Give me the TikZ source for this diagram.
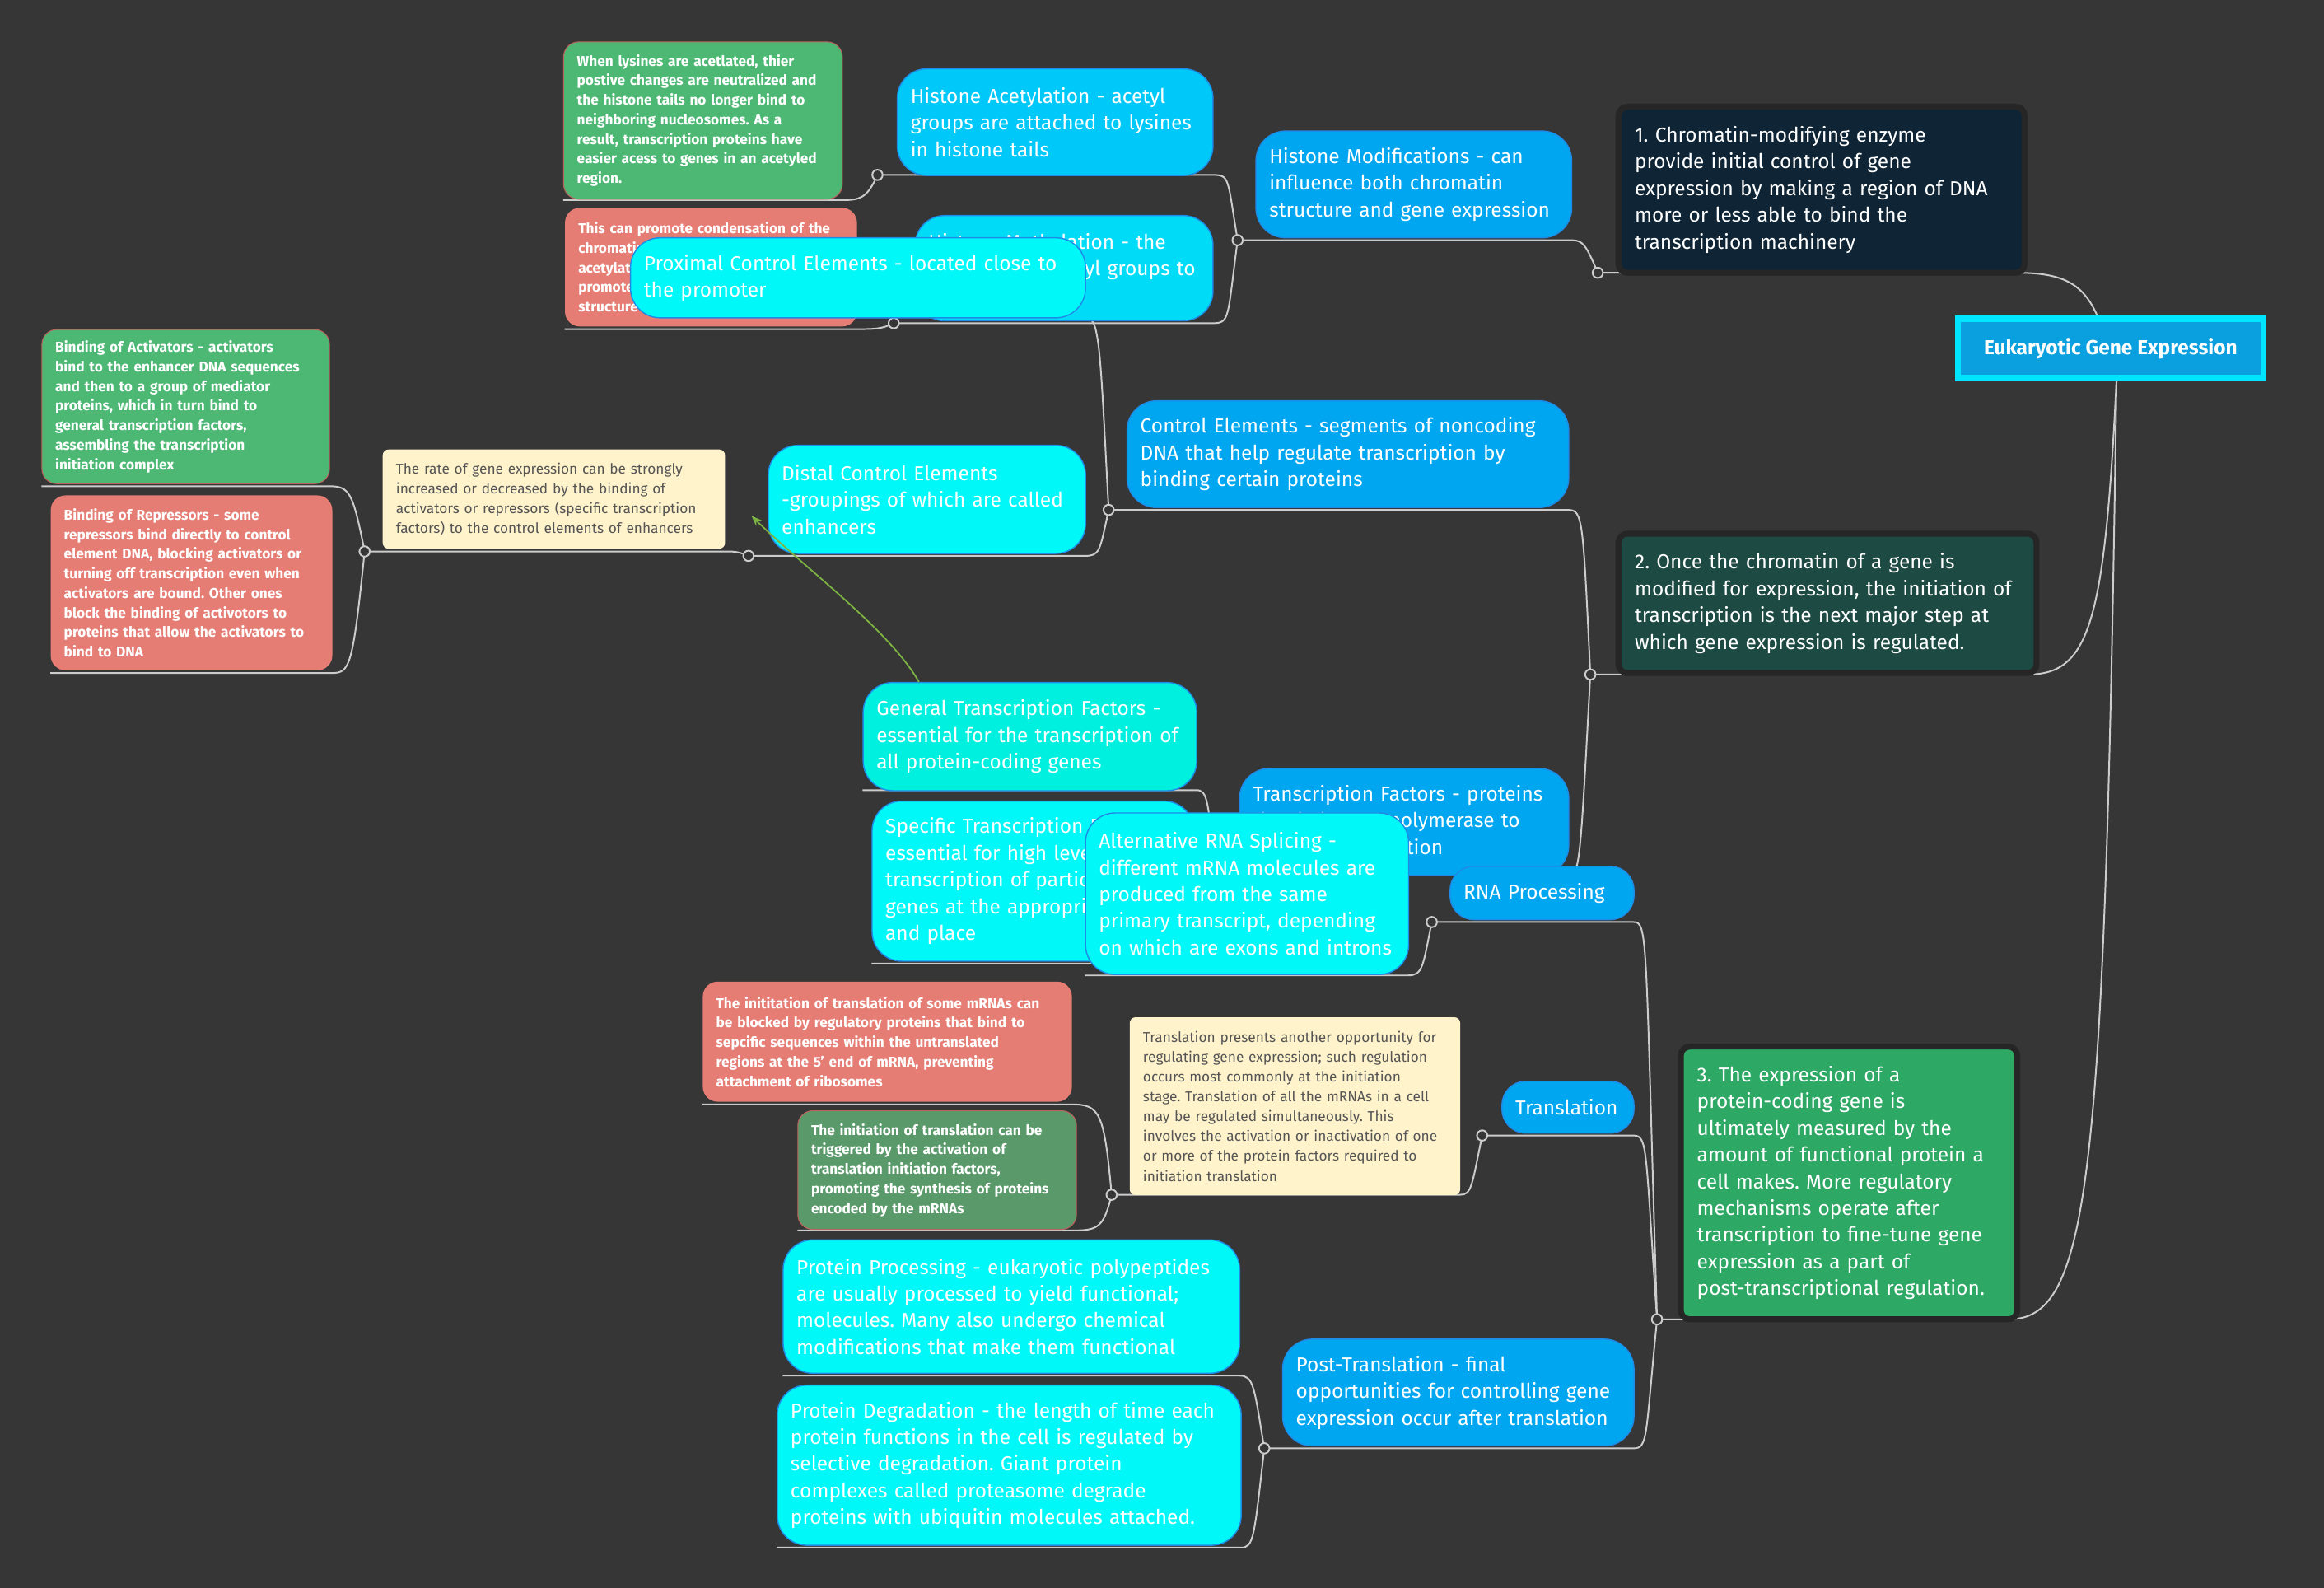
\documentclass[tikz,border=0pt]{standalone}
\usepackage{fontspec}
\setmainfont{Fira Sans}
\frenchspacing
\usetikzlibrary{arrows.meta}
\definecolor{bg}{HTML}{363636}
\definecolor{wire}{HTML}{CCCCCC}
\definecolor{blueA}{HTML}{00A6F0}
\definecolor{cyanHA}{HTML}{00C8F8}
\definecolor{cyanHM}{HTML}{00DCF8}
\definecolor{cyanC}{HTML}{00F8F8}
\definecolor{cyanG}{HTML}{00F0E0}
\definecolor{bord}{HTML}{1E8CE6}
\definecolor{gnote}{HTML}{4CB874}
\definecolor{gnoteb}{HTML}{5A9A6A}
\definecolor{rnote}{HTML}{E67D74}
\definecolor{ynote}{HTML}{FFF3CC}
\definecolor{ytext}{HTML}{555555}
\definecolor{boxA}{HTML}{0F2535}
\definecolor{boxB}{HTML}{1E4A44}
\definecolor{boxC}{HTML}{2EA865}
\definecolor{rootc}{HTML}{0AA0E0}
\definecolor{rootb}{HTML}{00E5FF}
\definecolor{arr}{HTML}{7CB342}
\tikzset{
 base/.style={anchor=north west,align=left,inner xsep=9pt,inner ysep=3pt},
 mn/.style={base,rounded corners=20pt,draw=bord,line width=0.8pt,text=white,font=\fontsize{13.6}{18}\selectfont},
 pill/.style={mn,rounded corners=16pt},
 note/.style={base,rounded corners=10pt,text=white,font=\fontsize{9.6}{13.2}\selectfont\bfseries,inner xsep=7pt},
 ynotes/.style={base,rounded corners=4pt,fill=ynote,text=ytext,font=\fontsize{9.6}{13.4}\selectfont,inner xsep=7pt},
 dark/.style={base,rounded corners=6pt,draw=black!85,line width=4pt,text=white,font=\fontsize{13.6}{18}\selectfont,inner xsep=11pt},
 wl/.style={draw=wire,line width=1.1pt},
 dot/.style={wl,fill=bg},
}
\newcommand\bx[7]{\pgfmathsetmacro\bw{#4-#2}\pgfmathsetmacro\bh{#5-#3}\pgfmathsetmacro\tw{#4-#2-18}%
 \node[#6,minimum width=\bw pt,minimum height=\bh pt,text width=\tw pt] (#1) at (#2,#3) {#7};}
\begin{document}
\begin{tikzpicture}[x=1pt,y=-1pt]
\fill[bg] (0,0) rectangle (1568,1071);
\useasboundingbox (0,0) rectangle (1568,1071);
% ---------- connectors ----------
\draw[wl] (1415,213) .. controls (1405,190) and (1390,184) .. (1360,184) -- (1078,184);
\draw[wl] (1428,256) .. controls (1420,420) and (1410,455) .. (1368,455) -- (1073,455);
\draw[wl] (1428,256) .. controls (1420,800) and (1410,890) .. (1355,890) -- (1118,890);
\draw[wl] (1078,184) .. controls (1070,165) and (1068,162) .. (1060,162) -- (835,162);
\draw[wl] (835,162) .. controls (828,120) and (830,118) .. (818,118) -- (592,118);
\draw[wl] (835,162) .. controls (828,215) and (830,218) .. (818,218) -- (603,218);
\draw[wl] (592,118) .. controls (585,134) and (580,135) .. (568,135) -- (380,135);
\draw[wl] (603,218) .. controls (595,222) and (590,222) .. (578,222) -- (381,222);
\draw[wl] (1073,455) .. controls (1068,350) and (1068,344) .. (1058,344) -- (748,344);
\draw[wl] (748,344) .. controls (742,230) and (742,214) .. (732,214) -- (425,214);
\draw[wl] (748,344) .. controls (742,372) and (742,375) .. (732,375) -- (505,375);
\draw[wl] (505,375) .. controls (498,372) and (495,372) .. (489,372) -- (246,372);
\draw[wl] (246,372) .. controls (238,332) and (236,328) .. (222,328) -- (28,328);
\draw[wl] (246,372) .. controls (238,450) and (236,454) .. (224,454) -- (34,454);
\draw[wl] (1073,455) .. controls (1066,585) and (1066,590) .. (1058,590) -- (820,590);
\draw[wl] (820,590) .. controls (815,540) and (815,533) .. (807,533) -- (582,533);
\draw[wl] (820,590) .. controls (815,645) and (815,650) .. (805,650) -- (588,650);
\draw[wl] (1118,890) .. controls (1110,630) and (1112,622) .. (1102,622) -- (966,622);
\draw[wl] (966,622) .. controls (960,652) and (960,658) .. (950,658) -- (732,658);
\draw[wl] (1118,890) .. controls (1110,775) and (1112,766) .. (1102,766) -- (1000,766);
\draw[wl] (1000,766) .. controls (993,800) and (993,806) .. (985,806) -- (750,806);
\draw[wl] (750,806) .. controls (745,750) and (742,745) .. (723,745) -- (474,745);
\draw[wl] (750,806) .. controls (745,826) and (742,830) .. (726,830) -- (538,830);
\draw[wl] (1118,890) .. controls (1110,970) and (1112,977) .. (1102,977) -- (853,977);
\draw[wl] (853,977) .. controls (846,935) and (846,928) .. (836,928) -- (528,928);
\draw[wl] (853,977) .. controls (846,1038) and (846,1044) .. (837,1044) -- (524,1044);
\foreach \p in {(1078,184),(1073,455),(1118,890),(835,162),(592,118),(603,218),(748,344),(505,375),(246,372),(820,590),(966,622),(1000,766),(750,806),(853,977)} \draw[dot] \p circle (3.5);
% ---------- nodes ----------
\node[anchor=center,fill=rootc,draw=rootb,line width=4pt,text=white,font=\fontsize{13.6}{18}\selectfont\bfseries,minimum width=206pt,minimum height=40pt] (root) at (1424,235) {Eukaryotic Gene Expression};
\bx{b1}{1090}{70}{1360}{182}{dark,fill=boxA}{1. Chromatin-modifying enzyme\\provide initial control of gene\\expression by making a region of DNA\\more or less able to bind the\\transcription machinery}
\bx{b2}{1090}{358}{1368}{452}{dark,fill=boxB}{2. Once the chromatin of a gene is\\modified for expression, the initiation of\\transcription is the next major step at\\which gene expression is regulated.}
\bx{b3}{1132}{704}{1355}{888}{dark,fill=boxC}{3. The expression of a\\protein-coding gene is\\ultimately measured by the\\amount of functional protein a\\cell makes. More regulatory\\mechanisms operate after\\transcription to fine-tune gene\\expression as a part of\\post-transcriptional regulation.}
\bx{hm}{847}{88}{1060}{160}{mn,fill=blueA}{Histone Modifications - can\\influence both chromatin\\structure and gene expression}
\bx{ha}{605}{46}{818}{118}{mn,fill=cyanHA}{Histone Acetylation - acetyl\\groups are attached to lysines\\in histone tails}
\bx{hme}{617}{145}{818}{216}{mn,fill=cyanHM}{Histone Methylation - the\\addition of methyl groups to\\histone tails}
\bx{g1}{380}{28}{568}{134}{note,fill=gnote,draw=rnote!80!black,line width=0.6pt}{When lysines are acetlated, thier\\postive changes are neutralized and\\the histone tails no longer bind to\\neighboring nucleosomes. As a\\result, transcription proteins have\\easier acess to genes in an acetyled\\region.}
\bx{r1}{381}{140}{578}{220}{note,fill=rnote}{This can promote condensation of the\\chromatin structure, the opposite of\\acetylation, or in some cases\\promote a less condensed chromatin\\structure}
\bx{prox}{425}{160}{732}{214}{mn,fill=cyanC}{Proximal Control Elements - located close to\\the promoter}
\bx{ce}{760}{270}{1058}{342}{mn,fill=blueA}{Control Elements - segments of noncoding\\DNA that help regulate transcription by\\binding certain proteins}
\bx{dist}{518}{300}{732}{373}{mn,fill=cyanC}{Distal Control Elements\\-groupings of which are called\\enhancers}
\bx{y1}{258}{303}{489}{370}{ynotes}{The rate of gene expression can be strongly\\increased or decreased by the binding of\\activators or repressors (specific transcription\\factors) to the control elements of enhancers}
\bx{act}{28}{222}{222}{326}{note,fill=gnote,draw=rnote!80!black,line width=0.6pt}{Binding of Activators - activators\\bind to the enhancer DNA sequences\\and then to a group of mediator\\proteins, which in turn bind to\\general transcription factors,\\assembling the transcription\\initiation complex}
\bx{rep}{34}{334}{224}{452}{note,fill=rnote}{Binding of Repressors - some\\repressors bind directly to control\\element DNA, blocking activators or\\turning off transcription even when\\activators are bound. Other ones\\block the binding of activotors to\\proteins that allow the activators to\\bind to DNA}
\bx{gtf}{582}{460}{807}{533}{mn,fill=cyanG}{General Transcription Factors -\\essential for the transcription of\\all protein-coding genes}
\bx{tf}{836}{518}{1058}{590}{mn,fill=blueA}{Transcription Factors - proteins\\that help RNA polymerase to\\initiate transcription}
\bx{stf}{588}{540}{805}{648}{mn,fill=cyanC}{Specific Transcription Factors -\\essential for high levels of\\transcription of particular\\genes at the appropriate time\\and place}
\bx{rna}{978}{584}{1102}{620}{pill,fill=blueA}{RNA Processing}
\bx{alt}{732}{548}{950}{657}{mn,fill=cyanC}{Alternative RNA Splicing -\\different mRNA molecules are\\produced from the same\\primary transcript, depending\\on which are exons and introns}
\bx{tr}{1013}{729}{1102}{764}{pill,fill=blueA}{Translation}
\bx{y2}{762}{686}{985}{806}{ynotes}{Translation presents another opportunity for\\regulating gene expression; such regulation\\occurs most commonly at the initiation\\stage. Translation of all the mRNAs in a cell\\may be regulated simultaneously. This\\involves the activation or inactivation of one\\or more of the protein factors required to\\initiation translation}
\bx{r2}{474}{662}{723}{743}{note,fill=rnote}{The inititation of translation of some mRNAs can\\be blocked by regulatory proteins that bind to\\sepcific sequences within the untranslated\\regions at the 5' end of mRNA, preventing\\attachment of ribosomes}
\bx{g2}{538}{749}{726}{829}{note,fill=gnoteb,draw=rnote!80!black,line width=0.6pt}{The initiation of translation can be\\triggered by the activation of\\translation initiation factors,\\promoting the synthesis of proteins\\encoded by the mRNAs}
\bx{post}{865}{903}{1102}{975}{mn,fill=blueA}{Post-Translation - final\\opportunities for controlling gene\\expression occur after translation}
\bx{pp}{528}{836}{836}{926}{mn,fill=cyanC}{Protein Processing - eukaryotic polypeptides\\are usually processed to yield functional;\\molecules. Many also undergo chemical\\modifications that make them functional}
\bx{pd}{524}{934}{837}{1042}{mn,fill=cyanC}{Protein Degradation - the length of time each\\protein functions in the cell is regulated by\\selective degradation. Giant protein\\complexes called proteasome degrade\\proteins with ubiquitin molecules attached.}
% relationship arrow
\coordinate (a1) at (620,460);
\coordinate (a2) at (507,348);
\draw[draw=arr,line width=1pt,-{Stealth[length=7pt]}] (a1) .. controls (600,425) and (545,385) .. (a2);
\end{tikzpicture}
\end{document}
